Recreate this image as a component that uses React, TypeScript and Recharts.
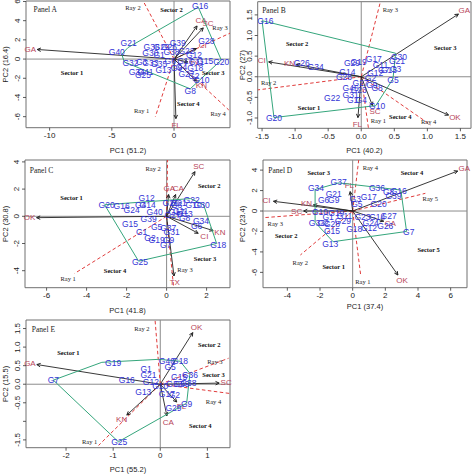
import React from "react";
import {
  ScatterChart,
  Scatter,
  XAxis,
  YAxis,
  ReferenceLine,
  ReferenceArea,
} from "recharts";

type Pt = { name?: string; x: number; y: number };

const BLUE = "#3434d6";
const TRAIT = "#b8465a";
const GREEN = "#35a67c";
const RED = "#e03c3c";
const SANS = "Liberation Sans, Arial, sans-serif";
const SERIF = "Liberation Serif, Times New Roman, serif";

// ---------- Panel A ----------
const genoA: Pt[] = [
  { name: "G16", x: 2.1, y: 5.5 }, { name: "G28", x: 2.6, y: 1.9 }, { name: "G20", x: 3.8, y: -0.3 },
  { name: "G10", x: 2.2, y: -2.2 }, { name: "G8", x: 1.3, y: -3.3 }, { name: "G21", x: -3.65, y: 1.7 },
  { name: "G40", x: -4.6, y: 0.7 }, { name: "G32", x: -3.5, y: -0.45 }, { name: "G3", x: -2.6, y: -0.35 },
  { name: "G34", x: -3.0, y: -1.3 }, { name: "G41", x: -2.3, y: -1.3 }, { name: "G25", x: -2.5, y: -1.7 },
  { name: "G36", x: -1.8, y: 1.3 }, { name: "G30", x: -1.9, y: 0.6 }, { name: "G29", x: -1.0, y: 1.3 },
  { name: "G26", x: -0.4, y: 1.3 }, { name: "G39", x: 0.3, y: 1.7 }, { name: "G1", x: -1.2, y: 0.4 },
  { name: "G35", x: -1.2, y: -0.5 }, { name: "G33", x: -1.9, y: -0.45 }, { name: "G13", x: -0.85, y: -1.1 },
  { name: "G6", x: -0.3, y: -0.2 }, { name: "G12", x: 1.6, y: 0.45 }, { name: "G22", x: 1.0, y: 0.8 },
  { name: "G15", x: 2.5, y: -0.15 }, { name: "G11", x: 1.8, y: -0.3 }, { name: "G18", x: 1.7, y: -0.9 },
  { name: "G4", x: 0.6, y: -0.8 }, { name: "G2", x: 1.6, y: -1.8 }, { name: "G27", x: 1.0, y: -1.6 },
  { name: "G9", x: 0.2, y: -0.9 }, { name: "G38", x: -0.2, y: 0.7 }, { name: "G17", x: 0.9, y: -0.2 },
];
const hullA: Pt[] = [
  { x: 1.95, y: 5.4 }, { x: 3.8, y: -0.1 }, { x: 1.3, y: -3.1 }, { x: -4.0, y: -0.3 },
  { x: -4.2, y: 0.5 }, { x: -3.7, y: 1.2 }, { x: 1.95, y: 5.4 },
];
const traitsA: Pt[] = [
  { name: "GA", x: -11.0, y: 1.0 }, { name: "CA", x: 1.85, y: 3.45 }, { name: "SC", x: 2.35, y: 3.25 },
  { name: "CI", x: 1.8, y: 1.1 }, { name: "KN", x: 1.8, y: -2.3 }, { name: "TX", x: 1.1, y: -0.3 },
  { name: "FL", x: 0.15, y: -6.2 },
];
const raysA: Pt[] = [
  { x: -1.5, y: -6.0 }, { x: -2.5, y: 6.1 }, { x: 4.5, y: 2.7 }, { x: 4.4, y: -5.3 },
];
const rayLabelsA: Pt[] = [
  { name: "Ray 1", x: -2.6, y: -5.4 }, { name: "Ray 2", x: -3.3, y: 5.4 },
  { name: "Ray 3", x: 3.7, y: 3.3 }, { name: "Ray 4", x: 3.55, y: -5.65 },
];
const sectorsA: Pt[] = [
  { name: "Sector 1", x: -8.2, y: -1.45 }, { name: "Sector 2", x: -0.2, y: 5.2 },
  { name: "Sector 3", x: 3.15, y: -1.4 }, { name: "Sector 4", x: 1.15, y: -4.6 },
];
const titleA: Pt[] = [{ name: "Panel A", x: -10.35, y: 5.2 }];
const xTicksA = [-10, -5, 0];
const xTickLabelsA = ["-10", "-5", "0"];
const yTicksA = [-6, -4, -2, 0, 2, 4, 6];
const yTickLabelsA = ["-6", "-4", "-2", "0", "2", "4", "6"];

// ---------- Panel B ----------
const genoB: Pt[] = [
  { name: "G16", x: -1.45, y: 1.36 }, { name: "G30", x: 0.57, y: 0.49 }, { name: "G21", x: 0.54, y: 0.38 },
  { name: "G3", x: 0.52, y: 0.19 }, { name: "G5", x: 0.48, y: -0.08 }, { name: "G10", x: 0.24, y: -0.71 },
  { name: "G20", x: -1.32, y: -0.99 }, { name: "G22", x: -0.44, y: -0.52 }, { name: "G1", x: -0.13, y: -0.57 },
  { name: "G4", x: 0.0, y: -0.57 }, { name: "G26", x: -0.9, y: 0.33 }, { name: "G34", x: -0.69, y: 0.24 },
  { name: "G17", x: 0.19, y: 0.42 }, { name: "G29", x: -0.14, y: 0.33 }, { name: "G14", x: -0.21, y: 0.12 },
  { name: "G28", x: -0.26, y: 0.0 }, { name: "G11", x: 0.29, y: 0.28 }, { name: "G7", x: 0.34, y: 0.16 },
  { name: "G12", x: 0.21, y: 0.1 }, { name: "G2", x: 0.14, y: -0.04 }, { name: "G9", x: 0.16, y: -0.2 },
  { name: "G46", x: -0.16, y: -0.28 }, { name: "G31", x: -0.16, y: -0.45 }, { name: "G27", x: -0.01, y: -0.16 },
  { name: "G23", x: -0.04, y: -0.32 }, { name: "G8", x: 0.24, y: -0.28 }, { name: "G19", x: -0.04, y: 0.36 },
  { name: "G13", x: 0.42, y: 0.16 },
];
const hullB: Pt[] = [
  { x: -1.5, y: 1.36 }, { x: 0.52, y: 0.57 }, { x: 0.48, y: -0.05 }, { x: 0.22, y: -0.7 },
  { x: -1.32, y: -0.99 }, { x: -1.5, y: 1.36 },
];
const traitsB: Pt[] = [
  { name: "GA", x: 1.47, y: 1.52 }, { name: "CI", x: -1.4, y: 0.36 }, { name: "KN", x: -0.98, y: 0.3 },
  { name: "FL", x: -0.05, y: -0.99 }, { name: "SC", x: 0.17, y: -0.7 }, { name: "OK", x: 1.32, y: -0.93 },
];
const raysB: Pt[] = [
  { x: 0.11, y: -1.26 }, { x: -1.57, y: -0.32 }, { x: 0.29, y: 1.82 }, { x: 1.05, y: -1.17 },
];
const rayLabelsB: Pt[] = [
  { name: "Ray 1", x: 0.26, y: -1.07 }, { name: "Ray 2", x: -1.4, y: -0.14 },
  { name: "Ray 3", x: 0.44, y: 1.64 }, { name: "Ray 4", x: 1.02, y: -1.09 },
];
const sectorsB: Pt[] = [
  { name: "Sector 1", x: -0.79, y: -0.74 }, { name: "Sector 2", x: -0.97, y: 0.81 },
  { name: "Sector 3", x: 1.27, y: 0.7 }, { name: "Sector 4", x: 0.59, y: -0.97 },
];
const titleB: Pt[] = [{ name: "Panel B", x: -1.32, y: 1.6 }];
const xTicksB = [-1.5, -1, -0.5, 0, 0.5, 1, 1.5];
const xTickLabelsB = ["-1.5", "-1.0", "-0.5", "0.0", "0.5", "1.0", "1.5"];
const yTicksB = [-1, -0.5, 0, 0.5, 1, 1.5];
const yTickLabelsB = ["-1.0", "-0.5", "0.0", "0.5", "1.0", "1.5"];

// ---------- Panel C ----------
const genoC: Pt[] = [
  { name: "G20", x: -3.0, y: 0.85 }, { name: "G16", x: -2.25, y: 0.78 }, { name: "G24", x: -1.75, y: 0.46 },
  { name: "G4", x: -1.3, y: 0.8 }, { name: "G14", x: -0.95, y: 0.8 }, { name: "G12", x: -1.0, y: 1.32 },
  { name: "G40", x: -0.6, y: 0.3 }, { name: "G39", x: -0.9, y: -0.2 }, { name: "G15", x: -1.83, y: -0.59 },
  { name: "G5", x: -0.5, y: -0.76 }, { name: "G37", x: 0.08, y: -0.84 }, { name: "G31", x: 0.25, y: -1.18 },
  { name: "G1", x: -1.25, y: -1.18 }, { name: "G2", x: -0.83, y: -1.57 }, { name: "G19", x: -0.5, y: -1.74 },
  { name: "G9", x: 0.1, y: -1.74 }, { name: "G7", x: -0.05, y: -2.11 }, { name: "G34", x: 1.72, y: -0.35 },
  { name: "G6", x: 1.5, y: -0.74 }, { name: "G22", x: 1.25, y: 1.2 }, { name: "G30", x: 1.75, y: 0.83 },
  { name: "G10", x: 1.35, y: 0.83 }, { name: "G18", x: 2.58, y: -2.11 }, { name: "G25", x: -1.33, y: -3.34 },
  { name: "G3", x: 0.5, y: 0.8 }, { name: "G11", x: 0.7, y: 0.4 }, { name: "G17", x: 0.5, y: 0.3 },
  { name: "G8", x: 0.9, y: -0.1 }, { name: "G13", x: 0.9, y: 0.2 }, { name: "G26", x: 0.2, y: 1.0 },
  { name: "G21", x: 0.6, y: 1.0 }, { name: "G27", x: 0.3, y: 0.1 },
];
const hullC: Pt[] = [
  { x: -3.1, y: 0.85 }, { x: 1.2, y: 1.3 }, { x: 1.85, y: 0.85 }, { x: 2.5, y: -2.0 },
  { x: -1.4, y: -3.3 }, { x: -3.1, y: 0.85 },
];
const traitsC: Pt[] = [
  { name: "OK", x: -6.5, y: -0.1 }, { name: "SC", x: 1.42, y: 3.28 }, { name: "GA", x: 0.1, y: 1.6 },
  { name: "CA", x: 0.45, y: 1.6 }, { name: "KN", x: 2.33, y: -1.05 }, { name: "CI", x: 1.58, y: -1.25 },
  { name: "TX", x: 0.37, y: -4.39 },
];
const raysC: Pt[] = [{ x: -4.6, y: -4.2 }, { x: 0.05, y: 4.2 }, { x: 0.35, y: -5.2 }];
const rayLabelsC: Pt[] = [
  { name: "Ray 1", x: -4.92, y: -4.6 }, { name: "Ray 2", x: -0.67, y: 3.5 }, { name: "Ray 3", x: 0.92, y: -3.88 },
];
const sectorsC: Pt[] = [
  { name: "Sector 1", x: -4.75, y: 1.37 }, { name: "Sector 2", x: 2.13, y: 2.25 },
  { name: "Sector 3", x: 1.92, y: -3.09 }, { name: "Sector 4", x: -2.58, y: -4.02 },
];
const titleC: Pt[] = [{ name: "Panel C", x: -6.25, y: 3.4 }];
const xTicksC = [-6, -4, -2, 0, 2];
const xTickLabelsC = ["-6", "-4", "-2", "0", "2"];
const yTicksC = [-4, -2, 0, 2, 4];
const yTickLabelsC = ["-4", "-2", "0", "2", "4"];

// ---------- Panel D ----------
const genoD: Pt[] = [
  { name: "G37", x: -0.86, y: 2.8 }, { name: "G34", x: -2.25, y: 2.28 }, { name: "G36", x: 1.49, y: 2.28 },
  { name: "G8", x: 2.2, y: 1.9 }, { name: "G16", x: 2.82, y: 1.95 }, { name: "G39", x: 2.5, y: 1.5 },
  { name: "G21", x: -1.16, y: 1.63 }, { name: "G6", x: -1.78, y: 1.08 }, { name: "G9", x: -1.16, y: 1.08 },
  { name: "G3", x: 0.16, y: 1.17 }, { name: "G17", x: 0.98, y: 1.34 }, { name: "G20", x: 1.59, y: 0.65 },
  { name: "G5", x: 0.26, y: 0.65 }, { name: "G33", x: -2.19, y: -1.2 }, { name: "G15", x: -1.27, y: -1.96 },
  { name: "G13", x: -1.37, y: -3.26 }, { name: "G7", x: 3.43, y: -2.08 }, { name: "G18", x: 0.1, y: -1.76 },
  { name: "G12", x: 1.0, y: -1.7 }, { name: "G26", x: 2.0, y: -1.5 }, { name: "G24", x: 1.1, y: -1.2 },
  { name: "G27", x: 2.2, y: -0.5 }, { name: "G14", x: 1.5, y: -0.6 }, { name: "G23", x: 0.6, y: -0.6 },
  { name: "G28", x: -1.27, y: -1.3 }, { name: "G1", x: -1.5, y: -0.6 }, { name: "G10", x: -2.0, y: -0.1 },
  { name: "G19", x: -1.0, y: -0.2 }, { name: "G11", x: -0.5, y: -0.5 }, { name: "G2", x: -1.8, y: -1.2 },
  { name: "G29", x: -0.6, y: -1.0 },
];
const hullD: Pt[] = [
  { x: -0.86, y: 2.75 }, { x: 2.95, y: 2.05 }, { x: 3.3, y: -2.0 }, { x: -1.2, y: -3.0 },
  { x: -2.3, y: -1.1 }, { x: -2.3, y: 2.1 }, { x: -0.86, y: 2.75 },
];
const traitsD: Pt[] = [
  { name: "GA", x: 6.43, y: 3.91 }, { name: "CI", x: -4.85, y: 0.95 }, { name: "KN", x: -2.4, y: 0.6 },
  { name: "SC", x: -3.0, y: 0.0 }, { name: "FL", x: -0.15, y: 1.9 }, { name: "OK", x: 2.77, y: -6.26 },
  { name: "CA", x: 1.9, y: -1.0 },
];
const raysD: Pt[] = [
  { x: 0.5, y: -6.4 }, { x: -3.2, y: -4.3 }, { x: -5.45, y: -0.65 }, { x: 0.37, y: 5.0 }, { x: 4.45, y: 1.73 },
];
const rayLabelsD: Pt[] = [
  { name: "Ray 1", x: 0.63, y: -6.9 }, { name: "Ray 2", x: -3.21, y: -5.02 }, { name: "Ray 3", x: -4.74, y: -1.2 },
  { name: "Ray 4", x: 1.08, y: 4.23 }, { name: "Ray 5", x: 4.75, y: 1.24 },
];
const sectorsD: Pt[] = [
  { name: "Sector 1", x: -1.16, y: -5.44 }, { name: "Sector 2", x: -4.07, y: -2.41 },
  { name: "Sector 3", x: -2.08, y: 3.78 }, { name: "Sector 4", x: 3.63, y: 3.78 },
  { name: "Sector 5", x: 4.65, y: -3.81 },
];
const titleD: Pt[] = [{ name: "Panel D", x: -4.43, y: 4.0 }];
const xTicksD = [-4, -2, 0, 2, 4, 6];
const xTickLabelsD = ["-4", "-2", "0", "2", "4", "6"];
const yTicksD = [-6, -4, -2, 0, 2, 4];
const yTickLabelsD = ["-6", "-4", "-2", "0", "2", "4"];

// ---------- Panel E ----------
const genoE: Pt[] = [
  { name: "G19", x: -1.0, y: 0.56 }, { name: "G7", x: -2.27, y: 0.11 }, { name: "G40", x: 0.14, y: 0.62 },
  { name: "G18", x: 0.42, y: 0.62 }, { name: "G16", x: -0.71, y: 0.11 }, { name: "G36", x: 0.63, y: 0.25 },
  { name: "G9", x: 0.56, y: -0.54 }, { name: "G29", x: 0.28, y: -0.65 }, { name: "G25", x: -0.87, y: -1.56 },
  { name: "G17", x: 0.14, y: -0.25 }, { name: "G5", x: 0.21, y: 0.47 }, { name: "G1", x: -0.3, y: 0.4 },
  { name: "G13", x: -0.36, y: -0.22 }, { name: "G15", x: 0.4, y: 0.2 }, { name: "G33", x: 0.3, y: 0.0 },
  { name: "G39", x: 0.45, y: 0.0 }, { name: "G21", x: -0.25, y: 0.25 }, { name: "G10", x: 0.0, y: -0.05 },
  { name: "G2", x: 0.3, y: -0.3 }, { name: "G12", x: -0.2, y: 0.05 }, { name: "G38", x: 0.6, y: 0.02 },
];
const hullE: Pt[] = [
  { x: -1.24, y: 0.59 }, { x: -0.04, y: 0.67 }, { x: 0.42, y: 0.62 }, { x: 0.63, y: 0.29 },
  { x: 0.56, y: -0.51 }, { x: -0.89, y: -1.55 }, { x: -2.27, y: 0.11 }, { x: -1.24, y: 0.59 },
];
const traitsE: Pt[] = [
  { name: "GA", x: -2.62, y: 0.53 }, { name: "OK", x: 0.69, y: 1.39 }, { name: "SC", x: 1.25, y: 0.03 },
  { name: "KN", x: -0.71, y: -0.83 }, { name: "CA", x: 0.14, y: -0.85 }, { name: "FL", x: 0.35, y: -0.48 },
];
const raysE: Pt[] = [
  { x: -1.31, y: -1.65 }, { x: -0.11, y: 1.72 }, { x: 1.45, y: 0.7 }, { x: 1.48, y: -0.25 },
];
const rayLabelsE: Pt[] = [
  { name: "Ray 1", x: -1.5, y: -1.55 }, { name: "Ray 2", x: -0.39, y: 1.5 },
  { name: "Ray 3", x: 1.16, y: 0.6 }, { name: "Ray 4", x: 1.13, y: -0.47 },
];
const sectorsE: Pt[] = [
  { name: "Sector 1", x: -1.95, y: 0.85 }, { name: "Sector 2", x: 1.04, y: 1.07 },
  { name: "Sector 3", x: 1.13, y: 0.27 }, { name: "Sector 4", x: 0.85, y: -1.11 },
];
const titleE: Pt[] = [{ name: "Panel E", x: -2.48, y: 1.48 }];
const xTicksE = [-2, -1, 0, 1];
const xTickLabelsE = ["-2", "-1", "0", "1"];
const yTicksE = [-1.5, -1, -0.5, 0, 0.5, 1, 1.5];
const yTickLabelsE = ["-1.5", "", "-0.5", "0.0", "0.5", "1.0", "1.5"];

const textShape = (style: any) => (p: any) => (
  <text x={p.cx} y={p.cy} textAnchor="middle" dominantBaseline="central" {...style}>
    {p.payload.name}
  </text>
);

const arrowShape = (name: string) => (p: any) => {
  const { x1, y1, x2, y2 } = p;
  const dx = x2 - x1;
  const dy = y2 - y1;
  const len = Math.hypot(dx, dy) || 1;
  const ux = dx / len;
  const uy = dy / len;
  const h = 4;
  const c = Math.cos(0.45);
  const s = Math.sin(0.45);
  const w1x = x2 - h * (ux * c - uy * s);
  const w1y = y2 - h * (uy * c + ux * s);
  const w2x = x2 - h * (ux * c + uy * s);
  const w2y = y2 - h * (uy * c - ux * s);
  return (
    <g>
      <line x1={x1} y1={y1} x2={x2} y2={y2} stroke="#222" strokeWidth={0.9} />
      <path d={`M${w1x},${w1y}L${x2},${y2}L${w2x},${w2y}`} fill="none" stroke="#222" strokeWidth={1} />
      <text
        x={x2 + ux * 7}
        y={y2 + uy * 6.5}
        textAnchor="middle"
        dominantBaseline="central"
        fontSize={8}
        fill={TRAIT}
        fontFamily={SANS}
      >
        {name}
      </text>
    </g>
  );
};

const fmt = (ticks: number[], labels: string[]) => (v: number) => {
  const i = ticks.indexOf(v);
  return i >= 0 ? labels[i] : String(v);
};

const Panel = (cfg: any) => {
  const { left, top, width, height, box, xDomain, yDomain, xTicks, xTickLabels, yTicks, yTickLabels } = cfg;
  const [pl, pr, pt, pb] = box;
  const xFmt = fmt(xTicks, xTickLabels);
  const yFmt = fmt(yTicks, yTickLabels);
  const origin = { x: 0, y: 0 };
  return (
    <div style={{ position: "absolute", left, top, width, height }}>
      <ScatterChart
        width={width}
        height={height}
        margin={{ top: pt - top, right: left + width - pr, bottom: 0, left: 0 }}
      >
        <XAxis
          type="number"
          dataKey="x"
          domain={xDomain}
          allowDataOverflow
          ticks={xTicks}
          interval={0}
          tickFormatter={xFmt}
          height={height - (pb - top)}
          axisLine={false}
          tickLine={{ stroke: "#333", strokeWidth: 0.8 }}
          tickSize={3}
          tickMargin={2}
          tick={{ fontSize: 8, fill: "#222", fontFamily: SANS }}
          label={{
            value: cfg.xTitle,
            position: "insideBottom",
            offset: cfg.xTitleOffset,
            style: { fontSize: 7.5, fill: "#222", fontFamily: SANS },
          }}
        />
        <YAxis
          type="number"
          dataKey="y"
          domain={yDomain}
          allowDataOverflow
          ticks={yTicks}
          interval={0}
          width={pl - left}
          axisLine={false}
          tickLine={{ stroke: "#333", strokeWidth: 0.8 }}
          tickSize={3}
          tickMargin={3}
          tick={(p: any) => (
            <text
              x={p.x}
              y={p.y}
              transform={`rotate(-90 ${p.x} ${p.y})`}
              textAnchor="middle"
              fontSize={8}
              fill="#222"
              fontFamily={SANS}
            >
              {yFmt(p.payload.value)}
            </text>
          )}
          label={{
            value: cfg.yTitle,
            angle: -90,
            position: "insideLeft",
            offset: 5,
            style: { textAnchor: "middle", fontSize: 7.5, fill: "#222", fontFamily: SANS },
          }}
        />
        <ReferenceArea
          x1={xDomain[0]}
          x2={xDomain[1]}
          y1={yDomain[0]}
          y2={yDomain[1]}
          fill="none"
          stroke="#707070"
          strokeWidth={1}
          ifOverflow="visible"
        />
        <ReferenceLine x={0} stroke="#8c8c8c" strokeWidth={1} />
        <ReferenceLine y={0} stroke="#8c8c8c" strokeWidth={1} />
        <Scatter
          data={cfg.hull}
          line={{ stroke: GREEN, strokeWidth: 1 }}
          shape={() => <g />}
          isAnimationActive={false}
        />
        {cfg.rays.map((r: Pt, i: number) => (
          <ReferenceLine
            key={`ray-${i}`}
            segment={[origin, r]}
            stroke={RED}
            strokeWidth={1}
            strokeDasharray="3.5 2.5"
            ifOverflow="hidden"
          />
        ))}
        <Scatter
          data={cfg.geno}
          shape={textShape({ fontSize: 8.5, fill: BLUE, fontFamily: SANS })}
          isAnimationActive={false}
        />
        {cfg.traits.map((t: Pt, i: number) => (
          <ReferenceLine
            key={`trait-${i}`}
            segment={[origin, t]}
            shape={arrowShape(t.name as string)}
            ifOverflow="visible"
          />
        ))}
        <Scatter
          data={cfg.rayLabels}
          shape={textShape({ fontSize: 6.5, fill: "#222", fontFamily: SERIF })}
          isAnimationActive={false}
        />
        <Scatter
          data={cfg.sectors}
          shape={textShape({ fontSize: 6.5, fill: "#111", fontFamily: SERIF, fontWeight: "bold" })}
          isAnimationActive={false}
        />
        <Scatter
          data={cfg.title}
          shape={textShape({ fontSize: 7.5, fill: "#222", fontFamily: SERIF })}
          isAnimationActive={false}
        />
      </ScatterChart>
    </div>
  );
};

export default function App() {
  return (
    <div
      style={{
        position: "absolute",
        left: 0,
        top: 0,
        width: 474,
        height: 474,
        background: "#fff",
        overflow: "hidden",
      }}
    >
      <Panel
        left={0} top={0} width={237} height={156} box={[26, 230, 1, 127.7]}
        xDomain={[-11.9, 4.5]} yDomain={[-7.15, 6.05]}
        xTicks={xTicksA} xTickLabels={xTickLabelsA} yTicks={yTicksA} yTickLabels={yTickLabelsA}
        xTitle="PC1 (51.2)" xTitleOffset={3} yTitle="PC2 (16.4)"
        geno={genoA} hull={hullA} traits={traitsA} rays={raysA}
        rayLabels={rayLabelsA} sectors={sectorsA} title={titleA}
      />
      <Panel
        left={237} top={0} width={237} height={156} box={[257.7, 471, 1.7, 128.3]}
        xDomain={[-1.566, 1.66]} yDomain={[-1.25, 1.82]}
        xTicks={xTicksB} xTickLabels={xTickLabelsB} yTicks={yTicksB} yTickLabels={yTickLabelsB}
        xTitle="PC1 (40.2)" xTitleOffset={3} yTitle="PC2 (27)"
        geno={genoB} hull={hullB} traits={traitsB} rays={raysB}
        rayLabels={rayLabelsB} sectors={sectorsB} title={titleB}
      />
      <Panel
        left={0} top={145} width={237} height={172} box={[25, 230, 160, 287.7]}
        xDomain={[-7.08, 3.17]} yDomain={[-5.25, 4.14]}
        xTicks={xTicksC} xTickLabels={xTickLabelsC} yTicks={yTicksC} yTickLabels={yTickLabelsC}
        xTitle="PC1 (41.8)" xTitleOffset={4} yTitle="PC2 (30.8)"
        geno={genoC} hull={hullC} traits={traitsC} rays={raysC}
        rayLabels={rayLabelsC} sectors={sectorsC} title={titleC}
      />
      <Panel
        left={237} top={145} width={237} height={170} box={[263, 467, 160, 287.7]}
        xDomain={[-5.49, 7.0]} yDomain={[-7.5, 4.99]}
        xTicks={xTicksD} xTickLabels={xTickLabelsD} yTicks={yTicksD} yTickLabels={yTickLabelsD}
        xTitle="PC1 (37.4)" xTitleOffset={6} yTitle="PC2 (23.4)"
        geno={genoD} hull={hullD} traits={traitsD} rays={raysD}
        rayLabels={rayLabelsD} sectors={sectorsD} title={titleD}
      />
      <Panel
        left={0} top={305} width={237} height={169} box={[26, 230, 320, 447.7]}
        xDomain={[-2.85, 1.48]} yDomain={[-1.71, 1.73]}
        xTicks={xTicksE} xTickLabels={xTickLabelsE} yTicks={yTicksE} yTickLabels={yTickLabelsE}
        xTitle="PC1 (55.2)" xTitleOffset={2} yTitle="PC2 (15.5)"
        geno={genoE} hull={hullE} traits={traitsE} rays={raysE}
        rayLabels={rayLabelsE} sectors={sectorsE} title={titleE}
      />
    </div>
  );
}
